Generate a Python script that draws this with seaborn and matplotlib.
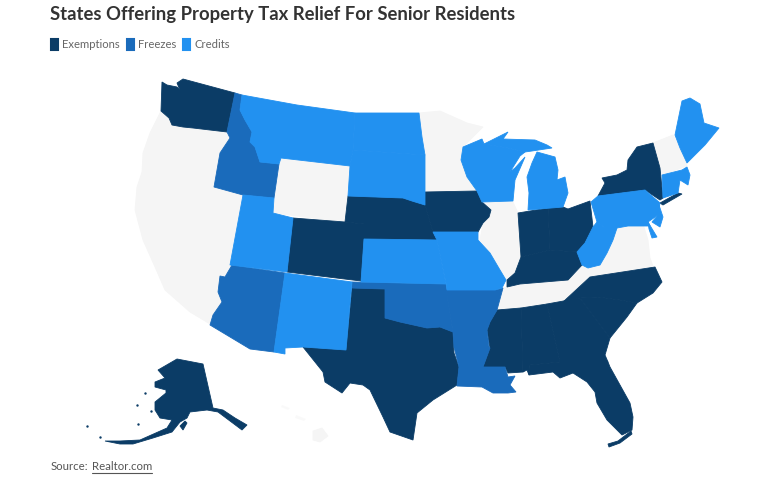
#!/usr/bin/env python3
# -*- coding: utf-8 -*-

import matplotlib
matplotlib.use('Agg')
import matplotlib.pyplot as plt
import seaborn as sns
from matplotlib.patches import Patch

# -------------------------------------------------
# Data: relief category per state, outlines traced from the map
# -------------------------------------------------

TITLE = 'States Offering Property Tax Relief For Senior Residents'
CATEGORIES = ['Exemptions', 'Freezes', 'Credits']
NO_RELIEF = 'None'

EXEMPTIONS = ['AK', 'AK2', 'WA', 'CO', 'NE', 'IA', 'TX', 'IN', 'OH', 'KY', 'NY', 'LI',
              'NC', 'SC', 'GA', 'FL', 'FK', 'AL', 'MS']
FREEZES = ['ID', 'AZ', 'OK', 'AR', 'LA']
CREDITS = ['MT', 'ND', 'SD', 'UT', 'NM', 'KS', 'MO', 'WI', 'MI', 'UP', 'PA', 'NJ',
           'WV', 'MD', 'DE', 'MA', 'ME']
NONE_STATES = ['OR', 'CA', 'NV', 'WY', 'MN', 'IL', 'TN', 'VA', 'NE_GREY', 'HI1']
FAINT_ISLES = ['HI2', 'HI3']

SHAPES = {
    'WA': [(162, 82), (167, 85), (177, 87), (180, 90), (177, 83), (183, 79), (235, 93),
           (227, 132), (210, 130), (193, 128), (183, 127), (172, 125), (169, 118), (161, 111)],
    'OR': [(161, 111), (169, 118), (172, 125), (183, 127), (193, 128), (210, 130), (227, 132),
           (230, 138), (220, 153), (214, 187), (180, 180), (142, 172), (143, 153), (150, 133)],
    'CA': [(142, 172), (180, 180), (175, 232), (220, 292), (222, 302), (213, 315), (210, 324),
           (190, 312), (165, 290), (155, 267), (143, 240), (135, 210), (137, 187)],
    'NV': [(180, 180), (214, 187), (243, 195), (230, 265), (225, 277), (220, 276), (220, 292),
           (175, 232)],
    'ID': [(235, 93), (242, 95), (240, 110), (245, 120), (252, 132), (250, 142), (255, 147),
           (260, 162), (279, 164), (274, 198), (243, 195), (214, 187), (220, 153), (230, 138),
           (227, 132)],
    'MT': [(242, 95), (297, 105), (355, 113), (353, 150), (350, 166), (281, 158), (279, 164),
           (260, 162), (255, 147), (250, 142), (252, 132), (245, 120), (240, 110)],
    'WY': [(281, 158), (350, 166), (345, 222), (273, 213)],
    'ND': [(355, 113), (419, 113), (422, 137), (425, 155), (353, 150)],
    'SD': [(353, 150), (425, 155), (425, 205), (412, 201), (403, 198), (348, 196), (350, 166)],
    'NE': [(348, 196), (403, 198), (412, 201), (425, 205), (433, 232), (437, 240), (364, 239),
           (364, 224), (345, 222)],
    'UT': [(243, 195), (274, 198), (273, 213), (293, 218), (287, 272), (230, 265)],
    'CO': [(293, 218), (345, 222), (364, 224), (364, 239), (361, 281), (287, 272)],
    'KS': [(364, 239), (437, 240), (446, 284), (361, 282)],
    'AZ': [(232, 265), (285, 273), (274, 352), (250, 349), (210, 325), (213, 315), (222, 302),
           (218, 292), (220, 276), (225, 277)],
    'NM': [(285, 273), (352, 282), (346, 350), (303, 347), (285, 348), (285, 354), (274, 352)],
    'TX': [(352, 288), (385, 289), (385, 318), (400, 322), (427, 328), (440, 327), (453, 332),
           (454, 353), (459, 367), (457, 385), (433, 400), (417, 413), (413, 440), (390, 432),
           (383, 417), (370, 390), (363, 385), (350, 383), (342, 393), (325, 382), (323, 372),
           (303, 347), (346, 350)],
    'OK': [(352, 282), (446, 284), (447, 295), (453, 332), (440, 327), (427, 328), (400, 322),
           (385, 318), (385, 289), (352, 288)],
    'AR': [(446, 290), (495, 290), (503, 288), (497, 310), (490, 322), (487, 330), (489, 347),
           (454, 347), (453, 332)],
    'LA': [(454, 347), (489, 347), (490, 348), (483, 367), (505, 367), (508, 377), (515, 376),
           (510, 385), (516, 392), (508, 393), (493, 393), (482, 387), (457, 386), (459, 367)],
    'MN': [(419, 113), (440, 111), (467, 123), (483, 127), (463, 147), (461, 160), (467, 177),
           (477, 191), (425, 192), (425, 155), (422, 137)],
    'IA': [(425, 192), (477, 191), (482, 202), (491, 210), (489, 217), (483, 223), (478, 232),
           (433, 232), (425, 205)],
    'MO': [(433, 232), (478, 232), (478, 240), (490, 253), (500, 270), (506, 280), (502, 288),
           (495, 290), (447, 290), (446, 283), (437, 240)],
    'WI': [(461, 160), (463, 147), (482, 139), (484, 144), (508, 148), (525, 152), (520, 156),
           (510, 172), (515, 168), (525, 157), (515, 180), (513, 201), (482, 202), (477, 191),
           (467, 177)],
    'UP': [(484, 144), (508, 132), (503, 139), (535, 140), (547, 145), (552, 148), (532, 151),
           (525, 152), (508, 148)],
    'MI': [(528, 210), (563, 207), (568, 193), (565, 177), (557, 180), (558, 170), (555, 157),
           (537, 152), (532, 163), (527, 177), (529, 193)],
    'IL': [(482, 202), (513, 202), (518, 213), (521, 257), (515, 273), (507, 280), (500, 270),
           (490, 253), (480, 240), (483, 223), (491, 210)],
    'IN': [(518, 213), (548, 208), (550, 250), (521, 257)],
    'OH': [(548, 208), (563, 207), (568, 209), (590, 201), (593, 227), (585, 243), (577, 252),
           (550, 250)],
    'KY': [(507, 280), (515, 273), (521, 257), (550, 250), (577, 252), (582, 265), (568, 280),
           (520, 284), (507, 287)],
    'TN': [(503, 288), (520, 284), (568, 280), (582, 265), (590, 277), (563, 302), (547, 304),
           (497, 310)],
    'NC': [(563, 302), (590, 277), (655, 267), (662, 282), (653, 293), (637, 303), (620, 300),
           (598, 297), (580, 298)],
    'SC': [(580, 298), (598, 297), (620, 300), (637, 303), (627, 317), (610, 338)],
    'GA': [(547, 304), (580, 298), (610, 338), (605, 355), (608, 362), (560, 362)],
    'AL': [(521, 308), (547, 304), (560, 362), (530, 365), (529, 375), (527, 370), (523, 372)],
    'MS': [(497, 310), (521, 308), (523, 372), (508, 373), (505, 367), (483, 367), (490, 348),
           (487, 330), (490, 322)],
    'FL': [(530, 365), (560, 362), (608, 362), (610, 367), (620, 385), (630, 403), (633, 417),
           (632, 430), (622, 435), (607, 420), (597, 403), (595, 392), (587, 382), (573, 373),
           (560, 378), (553, 372), (529, 375)],
    'FK': [(608, 444), (618, 441), (631, 431), (632, 434), (620, 443), (609, 447)],
    'WV': [(593, 227), (597, 222), (605, 228), (617, 228), (613, 240), (607, 253), (600, 265),
           (588, 268), (582, 265), (577, 252), (585, 243)],
    'VA': [(582, 265), (588, 268), (600, 265), (607, 253), (613, 240), (617, 228), (627, 226),
           (643, 224), (648, 240), (650, 258), (653, 266), (590, 277)],
    'PA': [(591, 202), (598, 196), (645, 190), (660, 203), (658, 215), (648, 222), (597, 222)],
    'NJ': [(658, 202), (663, 217), (660, 227), (652, 222), (658, 215)],
    'MD': [(597, 222), (648, 222), (650, 226), (628, 226), (617, 228), (605, 228)],
    'DE': [(648, 222), (657, 237), (652, 238), (649, 229)],
    'NY': [(598, 196), (605, 183), (602, 178), (617, 175), (627, 170), (628, 160), (637, 147),
           (653, 143), (660, 168), (663, 198), (660, 200), (645, 190)],
    'LI': [(660, 203), (678, 193), (682, 194), (663, 205)],
    'MA': [(662, 175), (682, 170), (687, 167), (690, 175), (688, 185), (680, 180), (678, 193),
           (663, 198)],
    'NE_GREY': [(653, 143), (673, 135), (685, 158), (687, 166), (662, 175)],
    'ME': [(675, 135), (682, 101), (690, 98), (700, 104), (704, 123), (719, 128), (705, 145),
           (695, 155), (687, 163), (680, 148)],
    'AK': [(177, 359), (203, 364), (213, 408), (223, 410), (235, 418), (247, 425), (242, 430),
           (230, 421), (218, 412), (207, 410), (190, 412), (187, 418), (180, 422), (172, 432),
           (153, 438), (133, 444), (120, 444), (105, 441), (120, 441), (140, 440), (167, 428),
           (172, 420), (160, 418), (155, 410), (155, 402), (166, 393), (166, 390), (155, 387),
           (155, 382), (165, 378), (158, 370)],
    'AK2': [(180, 426), (185, 421), (187, 423), (183, 430)],
    'HI1': [(313, 431), (322, 428), (328, 436), (320, 442), (313, 440)],
    'HI2': [(282, 405), (290, 408), (288, 410), (281, 407)],
    'HI3': [(296, 415), (306, 419), (304, 421), (295, 418)],
}

# small Alaskan and Aleutian islands
ISLANDS_X = [145, 137, 151, 87, 100, 138]
ISLANDS_Y = [393, 405, 411, 426, 437, 424]

SOURCE_PREFIX = 'Source:'
SOURCE_LINK = 'Realtor.com'


# -------------------------------------------------
# Drawing
# -------------------------------------------------

def main():

    sns.set_theme(style='white')
    plt.rcParams['font.family'] = ['Lato', 'DejaVu Sans']

    palette = dict(zip(
        CATEGORIES + [NO_RELIEF],
        sns.color_palette(['#0b3c66', '#1a6bbb', '#2291f0', '#f5f5f5'])
    ))

    groups = {
        'Exemptions': EXEMPTIONS,
        'Freezes': FREEZES,
        'Credits': CREDITS,
        NO_RELIEF: NONE_STATES,
    }

    fig = plt.figure(figsize=(7.68, 4.8), dpi=100)
    ax = fig.add_axes([0, 0, 1, 1])
    ax.set_xlim(0, 768)
    ax.set_ylim(480, 0)
    ax.axis('off')

    # grey states first, so coloured ones stay on top
    for name in [NO_RELIEF] + CATEGORIES:
        color = palette[name]
        for state in groups[name]:
            xs, ys = zip(*SHAPES[state])
            ax.fill(xs, ys, color=color, linewidth=0.6, zorder=2)

    for state in FAINT_ISLES:
        xs, ys = zip(*SHAPES[state])
        ax.fill(xs, ys, color=palette[NO_RELIEF], alpha=0.5, linewidth=0, zorder=2)

    ax.scatter(ISLANDS_X, ISLANDS_Y, s=3, color=palette['Exemptions'], linewidth=0, zorder=2)

    # title and source
    ax.text(50, 14.5, TITLE, fontsize=13.3, fontweight='bold', color='#333333',
            va='center', ha='left')

    prefix = ax.text(51, 467, SOURCE_PREFIX, fontsize=8.2, color='#555555',
                     va='center', ha='left')
    renderer = fig.canvas.get_renderer()
    link_x = ax.transData.inverted().transform(prefix.get_window_extent(renderer))[1][0] + 3.5
    link = ax.text(link_x, 467, SOURCE_LINK, fontsize=8.2, color='#555555',
                   va='center', ha='left')
    link_end = ax.transData.inverted().transform(link.get_window_extent(renderer))[1][0]
    ax.plot([link_x, link_end], [473, 473], color='#555555', linewidth=0.8)

    # legend with rounded swatches
    handles = [
        Patch(facecolor=palette[c], edgecolor=palette[c], linewidth=1.5,
              joinstyle='round', label=c)
        for c in CATEGORIES
    ]
    legend = ax.legend(
        handles=handles,
        ncol=3,
        loc='upper left',
        bbox_to_anchor=(51 / 768, 1 - 39 / 480),
        frameon=False,
        fontsize=8.1,
        handlelength=0.6,
        handleheight=1.1,
        handletextpad=0.4,
        columnspacing=0.6,
        borderaxespad=0,
        borderpad=0,
    )
    for text in legend.get_texts():
        text.set_color('#666666')

    fig.savefig('out.png', dpi=100, facecolor='white')


if __name__ == '__main__':
    main()
